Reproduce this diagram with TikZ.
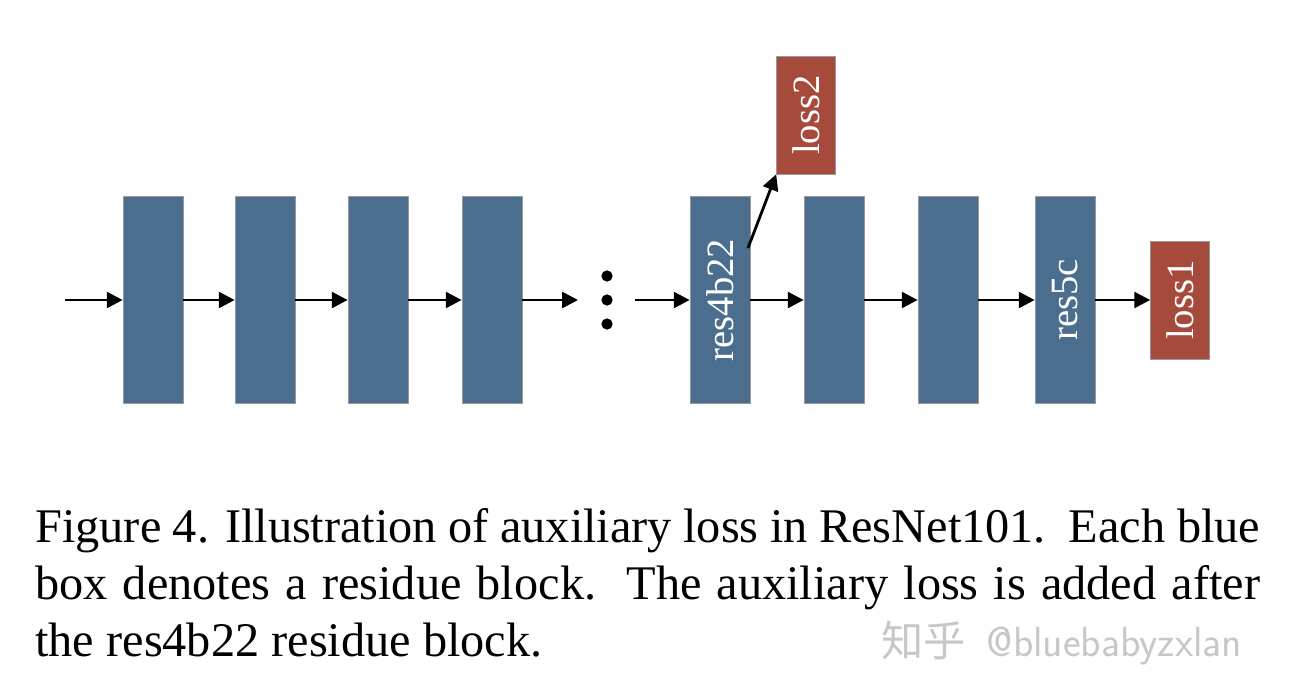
\documentclass[tikz,border=0pt]{standalone}
\usepackage{fontspec}
\setmainfont{Liberation Serif}
\newfontfamily\cjk{Noto Sans CJK SC}
\usetikzlibrary{arrows.meta,positioning}
\definecolor{blockblue}{HTML}{4C6E8E}
\definecolor{lossred}{HTML}{A64B3B}
\begin{document}
\begin{tikzpicture}[x=0.02cm,y=-0.02cm,
    block/.style={draw=black!40,fill=blockblue,minimum width=1.2cm,minimum height=4.14cm,inner sep=0pt,
        text=white,font=\fontsize{22}{22}\selectfont},
    loss/.style={draw=black!40,fill=lossred,minimum width=1.18cm,minimum height=2.36cm,inner sep=0pt,
        text=white,font=\fontsize{22}{22}\selectfont},
    flow/.style={-{Triangle[length=9pt,width=9pt]},line width=1.6pt}]
\useasboundingbox (0,0) rectangle (1290,698);

% residue blocks
\node[block] (b1) at (153,300) {};
\node[block] (b2) at (265,300) {};
\node[block] (b3) at (378,300) {};
\node[block] (b4) at (492,300) {};
\node[block] (b5) at (720,300) {\rotatebox{90}{res4b22}};
\node[block] (b6) at (834,300) {};
\node[block] (b7) at (948,300) {};
\node[block] (b8) at (1065,300) {\rotatebox{90}{res5c}};

% losses
\node[loss] (l1) at (1180,300) {\rotatebox{90}{loss1}};
\node[loss] (l2) at (806,115) {\rotatebox{90}{loss2}};

% dots
\foreach \y [count=\i] in {276,300,324}
    \fill (607,\y) circle (3.2pt) coordinate (d\i);
\coordinate (in) at (65,300);
\coordinate (dl) at (578,300);
\coordinate (dr) at (635,300);
\coordinate (tap) at (748,248);

\draw[flow] (in) -- (b1);
\draw[flow] (b1) -- (b2);
\draw[flow] (b2) -- (b3);
\draw[flow] (b3) -- (b4);
\draw[flow] (b4) -- (dl);
\draw[flow] (dr) -- (b5);
\draw[flow] (b5) -- (b6);
\draw[flow] (b6) -- (b7);
\draw[flow] (b7) -- (b8);
\draw[flow] (b8) -- (l1);
\draw[flow] (tap) -- (l2.south west);

% caption
\node[anchor=north west,text width=24.5cm,align=justify,inner sep=0pt,
    font=\fontsize{27.5}{32.4}\selectfont] (cap) at (35,508)
    {Figure 4. Illustration of auxiliary loss in ResNet101.\ \ Each blue box denotes a residue block.\ \ The auxiliary loss is added after the res4b22 residue block.};
\node[anchor=west,text=black!22,font=\fontsize{24}{24}\selectfont] (wm) at (875,643) {{\cjk 知乎}\ \ \textsf{@bluebabyzxlan}};
\end{tikzpicture}
\end{document}
